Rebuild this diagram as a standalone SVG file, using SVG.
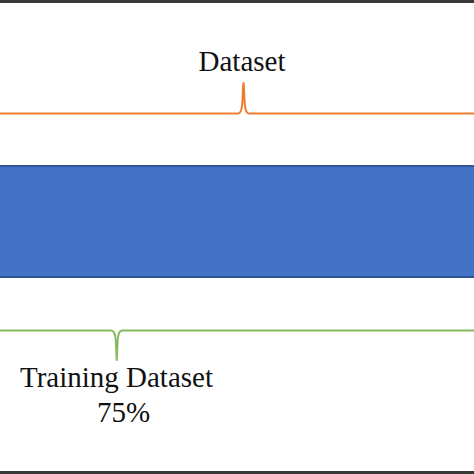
<svg xmlns="http://www.w3.org/2000/svg" width="474" height="474" viewBox="0 0 474 474">
<style>
.lbl{font-family:"Liberation Serif","Times New Roman",serif;font-size:29px;fill:#111}
.br{fill:none;stroke-width:2;stroke-linejoin:round}
</style>
<rect x="0" y="0" width="474" height="474" fill="#fff"/>
<rect x="0" y="0" width="474" height="3" fill="#3a3a3a"/>
<rect x="0" y="471" width="474" height="3" fill="#3a3a3a"/>
<g id="connectors">
<path class="br" stroke="#ED7D31" d="M0 113.5 H238 Q242 113.5 242.5 100 Q243 85 243.5 83 Q244 85 244.5 100 Q245 113.5 249 113.5 H474"/>
<path class="br" stroke="#86B95E" d="M0 330.5 H111 Q115 330.5 115.8 340 Q116.5 355 116.7 360 Q117 355 117.6 340 Q118.5 330.5 122 330.5 H474"/>
</g>
<g id="bar">
<rect x="-2" y="166" width="478" height="111" fill="#4472C4" stroke="#2F5597" stroke-width="2"/>
</g>
<g id="dataset">
<text class="lbl" x="242" y="71" text-anchor="middle">Dataset</text>
</g>
<g id="training">
<text class="lbl" x="116.5" y="387" text-anchor="middle">Training Dataset</text>
<text class="lbl" x="123.5" y="422" text-anchor="middle">75%</text>
</g>
</svg>
